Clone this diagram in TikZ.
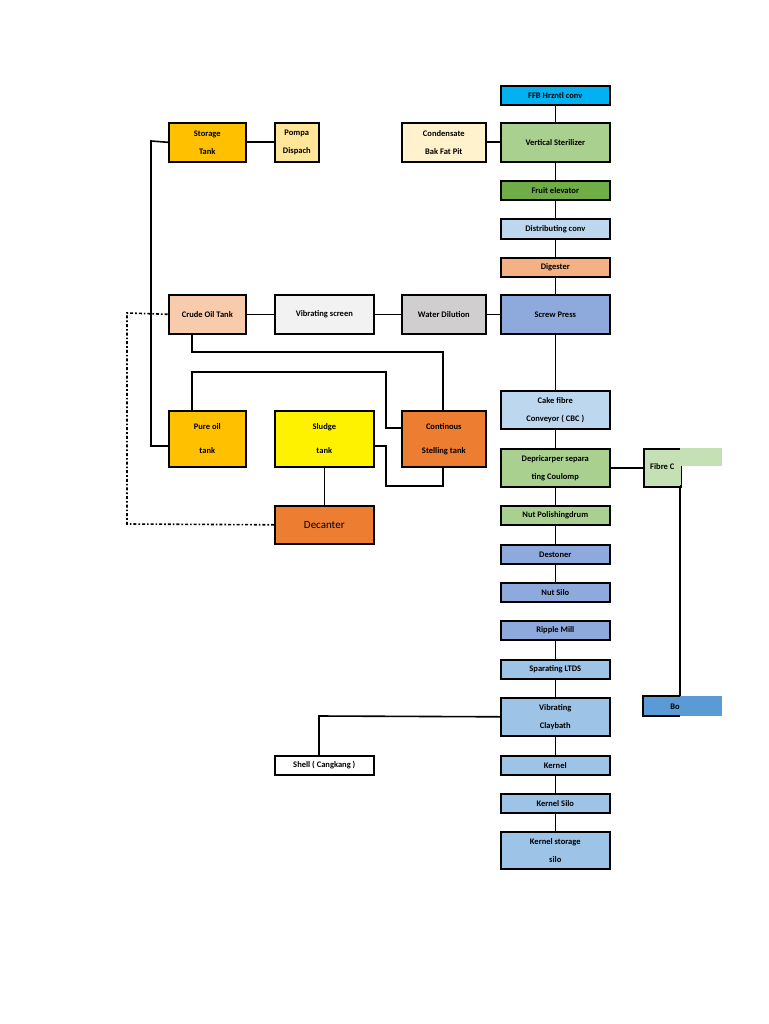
\documentclass[tikz,border=0pt]{standalone}
\usepackage{fontspec}
\setmainfont{Carlito}
\begin{document}
\begin{tikzpicture}[x=1pt,y=-1pt,
  box/.style={draw=black,line width=1.6pt,anchor=north west,inner sep=0pt,align=center,font=\bfseries\fontsize{8.5}{18}\selectfont},
  ln/.style={line width=1.6pt}]
\useasboundingbox (0,0) rectangle (768,1024);
\definecolor{cA}{RGB}{0,176,240}\definecolor{cLG}{RGB}{169,208,142}\definecolor{cCond}{RGB}{255,242,204}
\definecolor{cDG}{RGB}{112,173,71}\definecolor{cLB}{RGB}{189,215,238}\definecolor{cPe}{RGB}{244,177,131}
\definecolor{cB}{RGB}{142,169,219}\definecolor{cGr}{RGB}{208,206,206}\definecolor{cWh}{RGB}{242,242,242}
\definecolor{cCr}{RGB}{248,203,173}\definecolor{cGo}{RGB}{255,192,0}\definecolor{cPo}{RGB}{255,230,153}
\definecolor{cOr}{RGB}{237,125,49}\definecolor{cSB}{RGB}{157,195,230}\definecolor{cFib}{RGB}{197,224,180}
\definecolor{cBo}{RGB}{91,155,213}
\newcommand\bx[7]{\node[box,fill=#6,minimum width=#4pt,minimum height=#5pt] (#1) at (#2,#3) {#7};}
\bx{ffb}{500}{85}{109}{19}{cA}{FFB Hrzntl conv}
\bx{vs}{500}{122}{109}{39}{cLG}{Vertical Sterilizer}
\bx{cond}{401}{122}{84}{39}{cCond}{Condensate\\Bak Fat Pit}
\bx{fe}{500}{180}{109}{19}{cDG}{Fruit elevator}
\bx{dc}{500}{218}{109}{20}{cLB}{Distributing conv}
\bx{dig}{500}{257}{109}{19}{cPe}{Digester}
\bx{sp}{500}{294}{109}{39}{cB}{Screw Press}
\bx{wd}{401}{294}{84}{39}{cGr}{Water Dilution}
\bx{vsc}{274}{294}{99}{39}{cWh}{Vibrating screen}
\bx{crude}{168}{294}{77}{39}{cCr}{Crude Oil Tank}
\bx{st}{168}{122}{77}{39}{cGo}{Storage\\Tank}
\bx{pd}{274}{122}{44}{39}{cPo}{Pompa\\Dispach}
\bx{pure}{168}{410}{77}{56}{cGo}{Pure oil\\[6pt]tank}
\bx{sludge}{274}{410}{99}{56}{yellow}{Sludge\\[6pt]tank}
\bx{cst}{401}{410}{84}{56}{cOr}{Continous\\[6pt]Stelling tank}
\node[box,fill=cOr,minimum width=99pt,minimum height=38pt,font=\fontsize{11}{13}\selectfont] (dec) at (274,505) {Decanter};
\bx{cake}{500}{390}{109}{38}{cLB}{Cake fibre\\Conveyor ( CBC )}
\bx{dep}{500}{448}{109}{38}{cLG}{Depricarper separa\\ting Coulomp}
\bx{nut}{500}{505}{109}{19}{cLG}{Nut Polishingdrum}
\bx{dest}{500}{544}{109}{19}{cB}{Destoner}
\bx{ns}{500}{582}{109}{19}{cB}{Nut Silo}
\bx{rm}{500}{620}{109}{19}{cB}{Ripple Mill}
\bx{lt}{500}{659}{109}{19}{cSB}{Sparating LTDS}
\bx{cb}{500}{697}{109}{38}{cSB}{Vibrating\\Claybath}
\bx{shell}{274}{755}{99}{19}{white}{Shell ( Cangkang )}
\bx{k}{500}{755}{109}{19}{cSB}{Kernel}
\bx{ks}{500}{793}{109}{19}{cSB}{Kernel Silo}
\bx{kss}{500}{831}{109}{37}{cSB}{Kernel storage\\silo}
% fibre and boiler
\node[box,fill=cFib,minimum width=37pt,minimum height=38pt] (fib) at (643,448) {};
\fill[cFib] (680,448) rectangle (722,466);
\node[anchor=west,font=\bfseries\fontsize{8.5}{10}\selectfont,inner sep=0pt] (fibt) at (650,467) {Fibre C};
\fill[cFib] (680,449) rectangle (722,466);
\fill[cFib] (680,466) rectangle (681,485);
\coordinate (bt) at (680,696);
\fill[cBo] (643,696) rectangle (722,716);
\draw[ln] (680,696) -- (643,696) -- (643,716) -- (680,716);
\node[font=\bfseries\fontsize{8.5}{10}\selectfont,inner sep=0pt] (bo) at (675,707) {Bo};
\fill[cFib] (682,449) rectangle (722,466);
\draw[ln] (680,486) -- (bt);
% chain
\foreach \a/\b in {ffb/vs,vs/fe,fe/dc,dc/dig,dig/sp,sp/cake,cake/dep,dep/nut,nut/dest,dest/ns,rm/lt,lt/cb,cb/k,k/ks,ks/kss}
  \draw[ln] (\a.south) -- (\b.north);
\draw[ln] (cond) -- (vs);
\draw[ln] (st) -- (pd);
\draw[ln] (crude) -- (vsc); \draw[ln] (vsc) -- (wd); \draw[ln] (wd) -- (sp);
\draw[ln] (st.west) -- (151,141) -- (151,446) -- (pure.west |- 0,446);
\draw[ln] (crude.south -| 192,0) -- (192,352) -- (443,352) -- (cst.north -| 443,0);
\draw[ln] (pure.north -| 192,0) -- (192,372) -- (386,372) -- (386,428) -- (cst.west |- 0,428);
\draw[ln] (sludge.east |- 0,446) -- (386,446) -- (386,486) -- (443,486) -- (cst.south -| 443,0);
\draw[ln] (sludge.south) -- (dec.north);
\draw[ln,dash dot] (dec.west) -- (127,524) -- (127,313) -- (crude.west);
\draw[ln] (dep.east) -- (fib.west);
\draw[ln] (cb.west) -- (319,716) -- (shell.north -| 319,0);
\end{tikzpicture}
\end{document}
